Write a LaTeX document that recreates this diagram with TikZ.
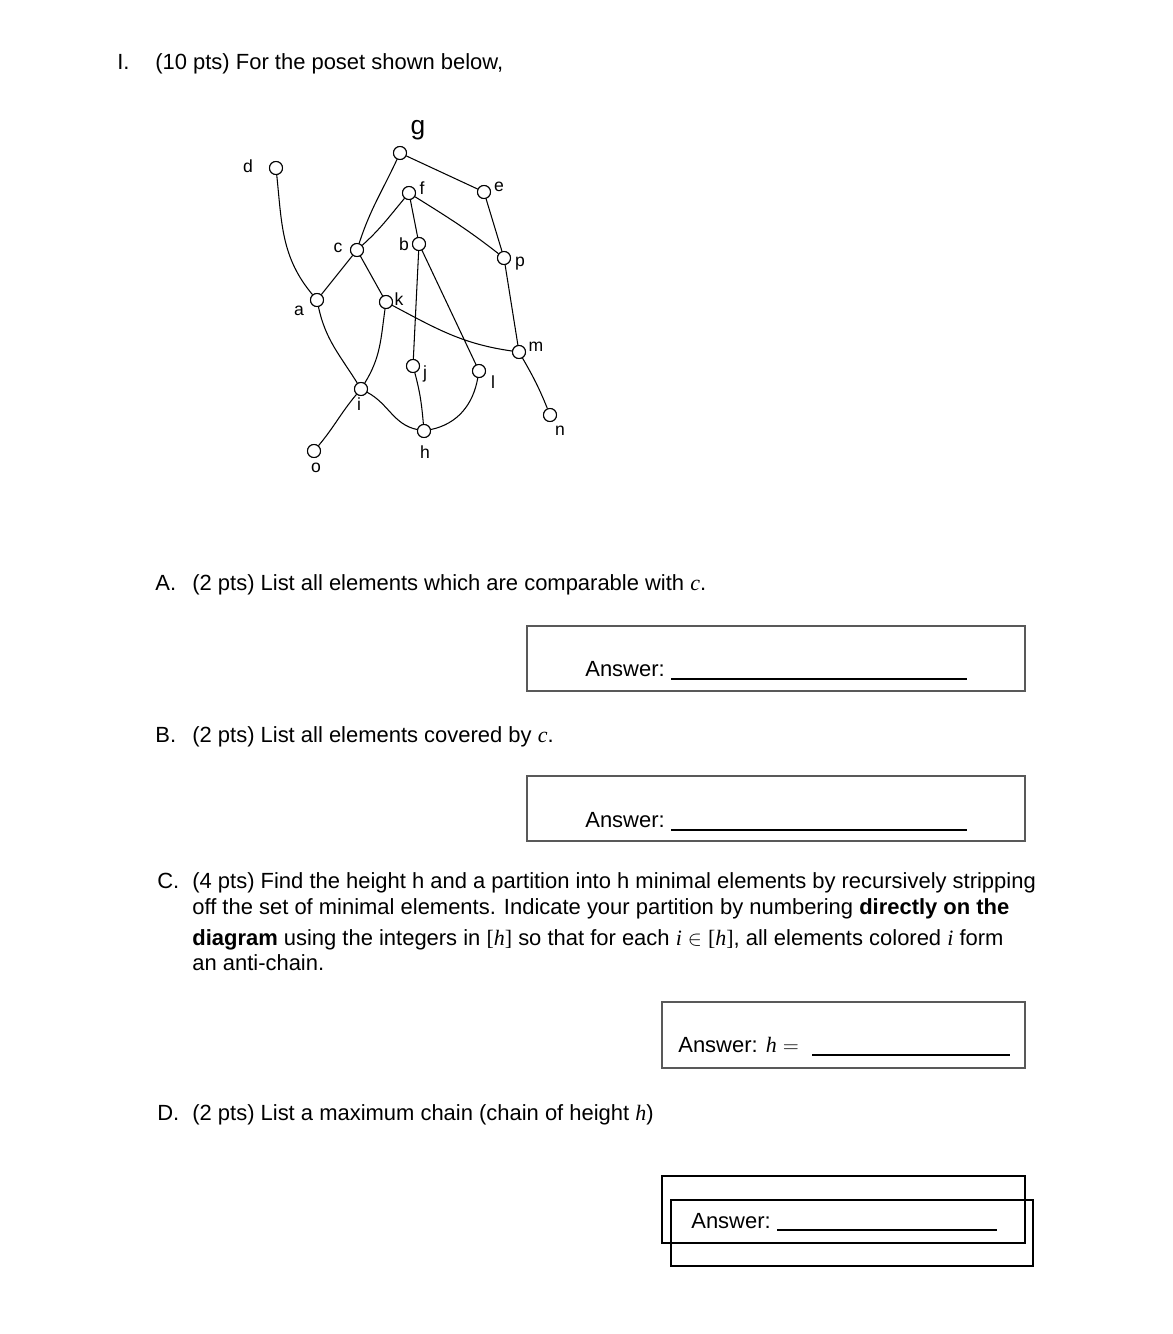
\documentclass[tikz,border=0pt]{standalone}
\usepackage{fontspec}
\setmainfont{Liberation Sans}
\newfontfamily\tmsfont{Liberation Serif}
\newcommand{\mvar}[1]{{\tmsfont\itshape #1}}
\begin{document}
\begin{tikzpicture}[x=0.02cm,y=-0.02cm,
  vtx/.style={draw,circle,minimum size=13*0.02cm,inner sep=0pt,line width=0.6pt,fill=white},
  lbl/.style={font=\fontsize{10}{10}\selectfont,inner sep=0pt},
  txt/.style={anchor=base west,inner sep=0pt,font=\fontsize{12.5}{15}\selectfont},
  ansbox/.style={draw=black!65,line width=0.6pt},
  edge/.style={line width=0.6pt}]
\useasboundingbox (0,0) rectangle (1172,1334);
\node[txt] (hI) at (117,70) {I.};
\node[txt] (hq) at (155,70) {(10 pts) For the poset shown below,};
\node[vtx] (g) at (400,153) {};
\node[vtx] (d) at (276,168) {};
\node[vtx] (f) at (409,193) {};
\node[vtx] (e) at (484,192) {};
\node[vtx] (c) at (357,250) {};
\node[vtx] (b) at (419,244) {};
\node[vtx] (p) at (504,258) {};
\node[vtx] (a) at (317,300) {};
\node[vtx] (k) at (386,302) {};
\node[vtx] (m) at (519,352) {};
\node[vtx] (j) at (413,366) {};
\node[vtx] (l) at (479,371) {};
\node[vtx] (i) at (361,389) {};
\node[vtx] (h) at (424,431) {};
\node[vtx] (o) at (314,451) {};
\node[vtx] (n) at (550,415) {};
\draw[edge] (d) to[out=-84,in=130] (a);
\draw[edge] (g) to[out=-115,in=72] (c);
\draw[edge] (g) -- (e);
\draw[edge] (f) to[out=-130,in=42] (c);
\draw[edge] (f) -- (b);
\draw[edge] (f) to[out=-32,in=142] (p);
\draw[edge] (e) -- (p);
\draw[edge] (c) -- (a);
\draw[edge] (c) -- (k);
\draw[edge] (b) -- (j);
\draw[edge] (b) -- (l);
\draw[edge] (p) -- (m);
\draw[edge] (k) to[out=-28,in=172] (m);
\draw[edge] (m) to[out=-60,in=112] (n);
\draw[edge] (a) to[out=-78,in=122] (i);
\draw[edge] (k) to[out=-98,in=58] (i);
\draw[edge] (i) to[out=-130,in=50] (o);
\draw[edge] (i) to[out=-28,in=168] (h);
\draw[edge] (j) to[out=-75,in=95] (h);
\draw[edge] (l) to[out=-100,in=12] (h);
\foreach \v in {g,d,f,e,c,b,p,a,k,m,j,l,i,h,o,n} {\node[vtx] at (\v) {};}
\node[lbl,font=\fontsize{15}{15}\selectfont] (lg) at (418,130) {g};
\node[lbl] (ld) at (248,166) {d};
\node[lbl] (lf) at (422,188) {f};
\node[lbl] (le) at (499,187) {e};
\node[lbl] (lc) at (338,248) {c};
\node[lbl] (lb) at (404,244) {b};
\node[lbl] (lp) at (520,264) {p};
\node[lbl] (la) at (299,311) {a};
\node[lbl] (lk) at (399,299) {k};
\node[lbl] (lm) at (536,347) {m};
\node[lbl] (lj) at (425,374) {j};
\node[lbl] (ll) at (493,382) {l};
\node[lbl] (li) at (359,404) {i};
\node[lbl] (lh) at (425,452) {h};
\node[lbl] (lo) at (316,468) {o};
\node[lbl] (ln) at (560,431) {n};
\node[txt] (qA) at (155,590) {A.};
\node[txt] at (192,590) {(2 pts) List all elements which are comparable with \mvar{c}.};
\draw[ansbox] (527,626) rectangle (1025,691);
\node[txt] (ansA) at (585,676) {Answer:};
\draw[line width=0.7pt] (671,679) -- (967,679);
\node[txt] (qB) at (155,742) {B.};
\node[txt] at (192,742) {(2 pts) List all elements covered by \mvar{c}.};
\draw[ansbox] (527,776) rectangle (1025,841);
\node[txt] (ansB) at (585,827) {Answer:};
\draw[line width=0.7pt] (671,830) -- (967,830);
\node[txt] (qC) at (157,888) {C.};
\node[txt] at (192,888) {(4 pts) Find the height h and a partition into h minimal elements by recursively stripping};
\node[txt] at (192,914) {off the set of minimal elements. Indicate your partition by numbering \textbf{directly on the}};
\node[txt] at (192,945) {\textbf{diagram} using the integers in {\tmsfont[}\mvar{h}{\tmsfont]} so that for each \mvar{i} $\in$ {\tmsfont[}\mvar{h}{\tmsfont]}, all elements colored \mvar{i} form};
\node[txt] at (192,970) {an anti-chain.};
\draw[ansbox] (662,1002) rectangle (1025,1068);
\node[txt] (ansC) at (678,1052) {Answer: \mvar{h} $=$};
\draw[line width=0.7pt] (812,1055) -- (1010,1055);
\node[txt] (qD) at (157,1120) {D.};
\node[txt] at (192,1120) {(2 pts) List a maximum chain (chain of height \mvar{h})};
\draw[line width=0.6pt] (662,1176) rectangle (1025,1243);
\draw[line width=0.6pt] (671,1200) rectangle (1033,1266);
\node[txt] (ansD) at (691,1228) {Answer:};
\draw[line width=0.7pt] (777,1230) -- (997,1230);
\end{tikzpicture}
\end{document}
